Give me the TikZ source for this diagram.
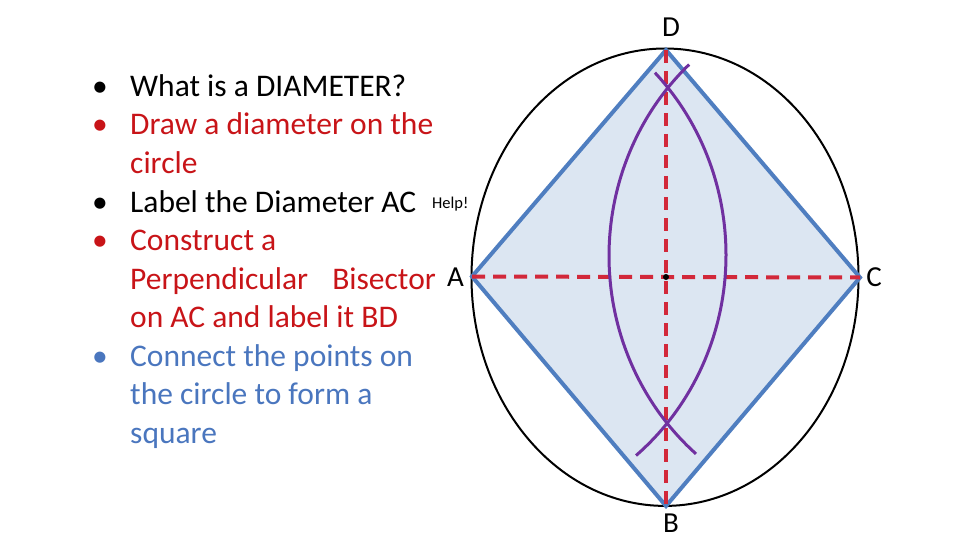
\documentclass[tikz,border=0pt]{standalone}
\usepackage{fontspec}
\setmainfont{Carlito}
\definecolor{txtred}{HTML}{C81418}
\definecolor{txtblue}{HTML}{4A76BE}
\definecolor{rhfill}{HTML}{DCE6F2}
\definecolor{rhline}{HTML}{4F7EC0}
\definecolor{dashred}{HTML}{D2283A}
\definecolor{arcpurple}{HTML}{7030A0}
\begin{document}
\begin{tikzpicture}[x=1pt,y=-1pt,
  line/.style={anchor=base west,inner sep=0pt,font=\fontsize{31.5}{38.5}\selectfont},
  bul/.style={anchor=base,inner sep=0pt,font=\fontsize{31.5}{38.5}\selectfont},
  lbl/.style={inner sep=0pt,font=\fontsize{29}{35}\selectfont},
  dashline/.style={draw=dashred,line width=4pt,dash pattern=on 13pt off 8pt},
  arcline/.style={draw=arcpurple,line width=3pt}]
\useasboundingbox (0,0) rectangle (960,540);
% points
\coordinate (A) at (472,276.5);
\coordinate (C) at (860,277.5);
\coordinate (D) at (666,50);
\coordinate (B) at (666,506);
\coordinate (O) at (665,277.2);
\coordinate (M) at (666,277);
% circle (ellipse)
\draw[line width=2pt,black] (O) ellipse [x radius=193.5, y radius=228.7];
% rhombus
\draw[fill=rhfill,draw=rhline,line width=4pt,line join=miter] (A) -- (D) -- (C) -- (B) -- cycle;
% dashed diameters
\draw[dashline] (A) -- (C);
\draw[dashline] (D) -- (B);
% compass arcs
\draw[arcline] plot[domain=227.2:130.7,samples=80,smooth] ({859+250*cos(\x)},{256+261*sin(\x)});
\draw[arcline] plot[domain=-44.3:50.2,samples=80,smooth] ({476+250*cos(\x)},{255+261*sin(\x)});
% center dot
\fill[black] (M) circle (3);
% labels
\node[lbl] (lA) at (455.5,277) {A};
\node[lbl] (lC) at (874,277) {C};
\node[lbl] (lD) at (671,27) {D};
\node[lbl] (lB) at (671,523) {B};
% text
\node[bul,black] (b1) at (100,96.5) {•};
\node[line,black] (t1) at (130,96.5) {What is a DIAMETER?};
\node[bul,txtred] (b2) at (100,135) {•};
\node[line,txtred] (t2) at (130,135) {Draw a diameter on the};
\node[line,txtred] (t3) at (130,173.5) {circle};
\node[bul,black] (b4) at (100,212) {•};
\node[line,black] (t4) at (130,212) {Label the Diameter AC};
\node[anchor=base west,inner sep=0pt,font=\fontsize{16.5}{19}\selectfont] (help) at (432,208.5) {Help!};
\node[bul,txtred] (b5) at (100,250.5) {•};
\node[line,txtred] (t5) at (130,250.5) {Construct a};
\node[line,txtred] (t6) at (130,289) {Perpendicular\hspace{17pt} Bisector};
\node[line,txtred] (t7) at (130,327.5) {on AC and label it BD};
\node[bul,txtblue] (b8) at (100,366) {•};
\node[line,txtblue] (t8) at (130,366) {Connect the points on};
\node[line,txtblue] (t9) at (130,404.5) {the circle to form a};
\node[line,txtblue] (t10) at (130,443) {square};
\end{tikzpicture}
\end{document}
